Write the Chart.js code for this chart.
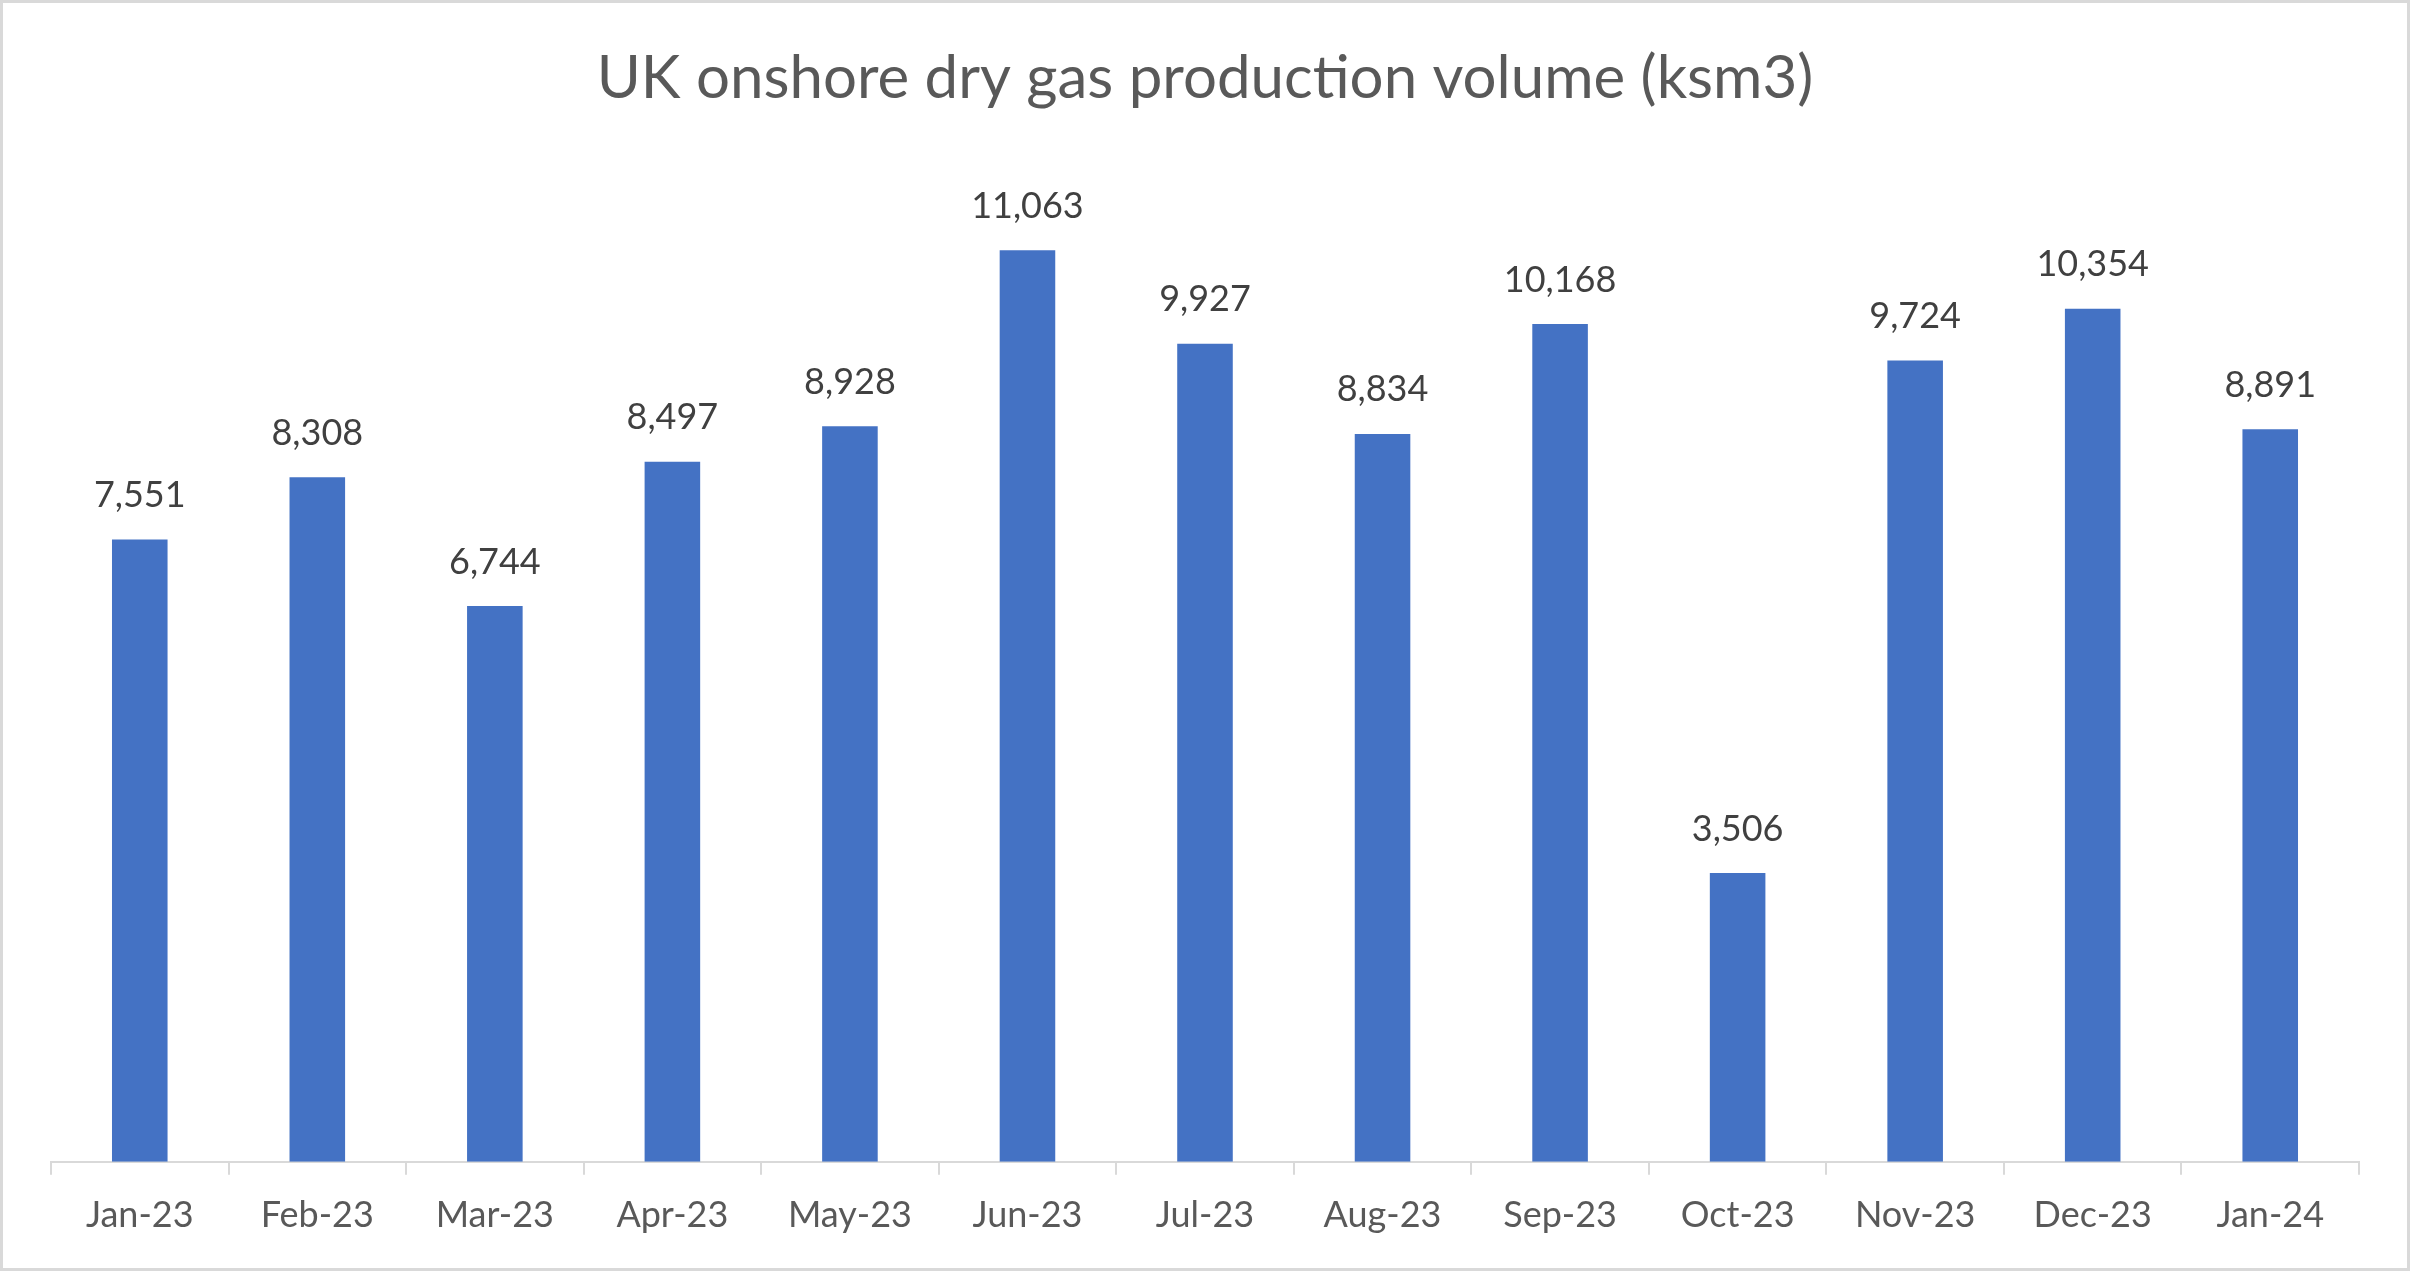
<!DOCTYPE html>
<html>
<head>
<meta charset="utf-8">
<script src="https://cdn.jsdelivr.net/npm/chart.js@4/dist/chart.umd.min.js"></script>
<style>
  html, body { margin: 0; padding: 0; background: #ffffff; }
  #wrap { width: 2410px; height: 1271px; position: relative; }
</style>
</head>
<body>
<div id="wrap"><canvas id="c"></canvas></div>
<script>
const categories = ["Jan-23","Feb-23","Mar-23","Apr-23","May-23","Jun-23","Jul-23","Aug-23","Sep-23","Oct-23","Nov-23","Dec-23","Jan-24"];
const productionVolume = [7551, 8308, 6744, 8497, 8928, 11063, 9927, 8834, 10168, 3506, 9724, 10354, 8891];
const chartTitle = "UK onshore dry gas production volume (ksm3)";

const FONT = "Lato, 'Open Sans', sans-serif";

const backgroundBorder = {
  id: 'backgroundBorder',
  beforeDraw(chart) {
    const ctx = chart.ctx;
    ctx.save();
    ctx.fillStyle = '#ffffff';
    ctx.fillRect(0, 0, chart.width, chart.height);
    ctx.strokeStyle = '#d9d9d9';
    ctx.lineWidth = 3;
    ctx.strokeRect(1.5, 1.5, chart.width - 3, chart.height - 3);
    ctx.restore();
  }
};

const valueLabels = {
  id: 'valueLabels',
  afterDatasetsDraw(chart) {
    const ctx = chart.ctx;
    ctx.save();
    ctx.font = "36px " + FONT;
    ctx.fillStyle = '#404040';
    ctx.textAlign = 'center';
    ctx.textBaseline = 'middle';
    chart.data.datasets.forEach((ds, di) => {
      chart.getDatasetMeta(di).data.forEach((bar, i) => {
        ctx.fillText(ds.data[i].toLocaleString('en-US'), bar.x, bar.y - 44);
      });
    });
    ctx.restore();
  }
};

new Chart(document.getElementById('c'), {
  type: 'bar',
  data: {
    labels: categories,
    datasets: [{
      label: 'Production volume (ksm3)',
      data: productionVolume,
      backgroundColor: '#4472C4',
      borderWidth: 0,
      categoryPercentage: 1.0,
      barPercentage: 0.313
    }]
  },
  options: {
    responsive: true,
    maintainAspectRatio: false,
    animation: false,
    layout: { padding: { left: 51, right: 51, top: 0, bottom: 15 } },
    plugins: {
      legend: { display: false },
      tooltip: { enabled: false },
      title: {
        display: true,
        text: chartTitle,
        color: '#595959',
        font: { family: FONT, size: 60, weight: 'normal', lineHeight: 1.2 },
        padding: { top: 43, bottom: 58 }
      }
    },
    scales: {
      x: {
        grid: {
          offset: true,
          drawOnChartArea: false,
          drawTicks: true,
          tickLength: 13,
          color: '#d9d9d9',
          lineWidth: 2
        },
        border: { display: true, color: '#d9d9d9', width: 2 },
        ticks: {
          color: '#595959',
          font: { family: FONT, size: 36, lineHeight: 1.2 },
          padding: 19,
          maxRotation: 0,
          autoSkip: false
        }
      },
      y: {
        display: false,
        min: 0,
        max: 12000
      }
    }
  },
  plugins: [backgroundBorder, valueLabels]
});
</script>
</body>
</html>
